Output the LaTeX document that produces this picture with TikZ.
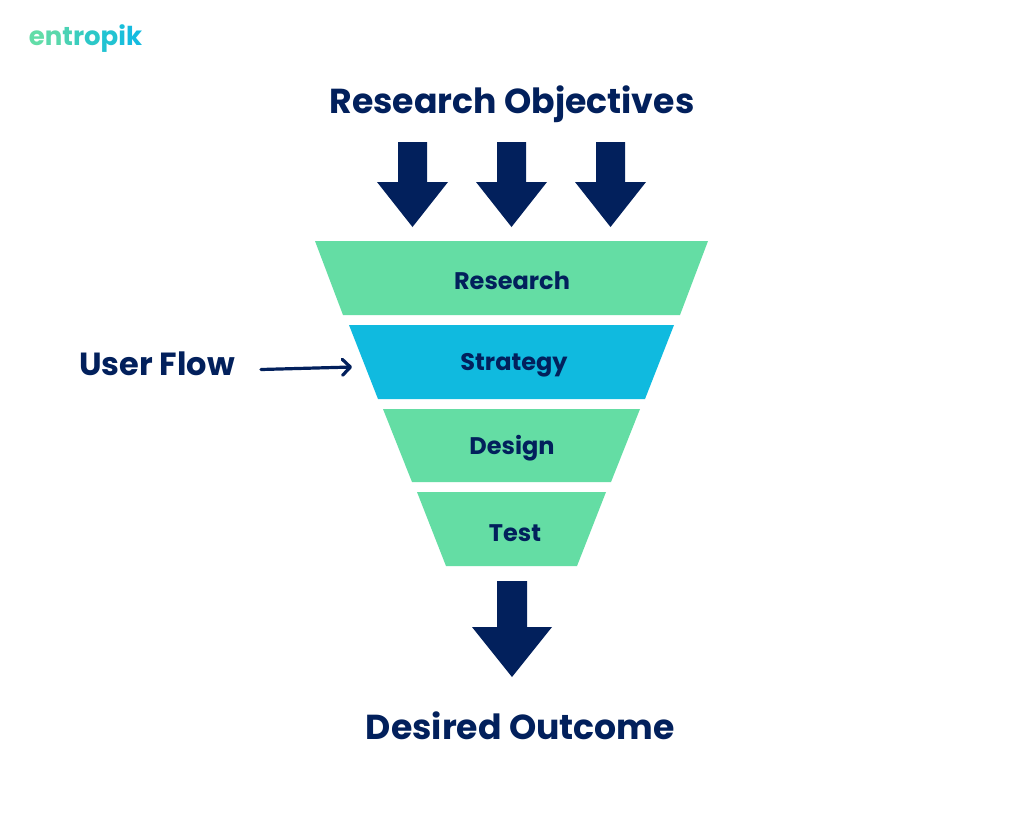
\documentclass[tikz,border=0pt]{standalone}
\usepackage{fontspec}
\setmainfont{Poppins}[BoldFont={Poppins Bold}]
\usetikzlibrary{arrows.meta}
\definecolor{navy}{HTML}{02205C}
\definecolor{mint}{HTML}{64DDA4}
\definecolor{sky}{HTML}{10BADF}
\tikzset{
  x=0.75pt,y=-0.75pt,
  title/.style={text=navy,font=\bfseries\fontsize{26}{30}\selectfont,inner sep=0pt,anchor=center},
  stage/.style={text=navy,font=\bfseries\fontsize{18}{22}\selectfont,inner sep=0pt,anchor=center},
  band/.style={fill=#1,draw=none},
  blockarrow/.style={fill=navy,draw=none},
}
\newcommand{\downarrowshape}[6]{% cx, top, headtop, tip, half shaft, half head
  \path[blockarrow] (#1-#5,#2) -- (#1+#5,#2) -- (#1+#5,#3) -- (#1+#6,#3) -- (#1,#4) -- (#1-#6,#3) -- (#1-#5,#3) -- cycle;}
\begin{document}
\begin{tikzpicture}
\useasboundingbox (0,0) rectangle (1024,819);
\fill[white] (0,0) rectangle (1024,819);
% logo
\node[inner sep=0pt,anchor=center,font=\fontsize{19.5}{22}\selectfont\bfseries] (logo) at (85.5,38.5) {\textcolor[HTML]{62DDA8}{e}\textcolor[HTML]{5AD8AC}{n}\textcolor[HTML]{4AD2B4}{t}\textcolor[HTML]{3ACDBE}{r}\textcolor[HTML]{2CC8C8}{o}\textcolor[HTML]{22C3D2}{p}\textcolor[HTML]{1ABFDA}{i}\textcolor[HTML]{14BBE0}{k}};
% titles
\node[title] (objectives) at (512,104) {Research Objectives};
\node[title] (outcome) at (520.5,726) {Desired Outcome};
% funnel
\path[band=mint] (315,241) -- (708,241) -- (680,315) -- (343,315) -- cycle;
\path[band=sky] (349,325) -- (674,325) -- (645,399) -- (378,399) -- cycle;
\path[band=mint] (383,409) -- (640,409) -- (611,482) -- (412,482) -- cycle;
\path[band=mint] (417,492) -- (606,492) -- (577,566) -- (446,566) -- cycle;
\node[stage] (research) at (512,281) {Research};
\node[stage] (strategy) at (514,365) {Strategy};
\node[stage] (design) at (512,448) {Design};
\node[stage] (test) at (515,533) {Test};
% block arrows
\downarrowshape{412.5}{142}{182}{227}{14.5}{35.5}
\downarrowshape{511.5}{142}{182}{227}{14.5}{35.5}
\downarrowshape{610.5}{142}{182}{227}{14.5}{35.5}
\downarrowshape{512}{581}{627}{677}{15}{40}
% user flow
\node[title,font=\bfseries\fontsize{24}{28}\selectfont] (userflow) at (157,364) {User Flow};
\coordinate (ufstart) at (261,369.5);
\coordinate (ufend) at (352,367);
\draw[navy,line width=2.4pt,line cap=round,-{Straight Barb[length=6pt,width=12pt,line width=2.4pt,round]}] (ufstart) -- (ufend);
\end{tikzpicture}
\end{document}
